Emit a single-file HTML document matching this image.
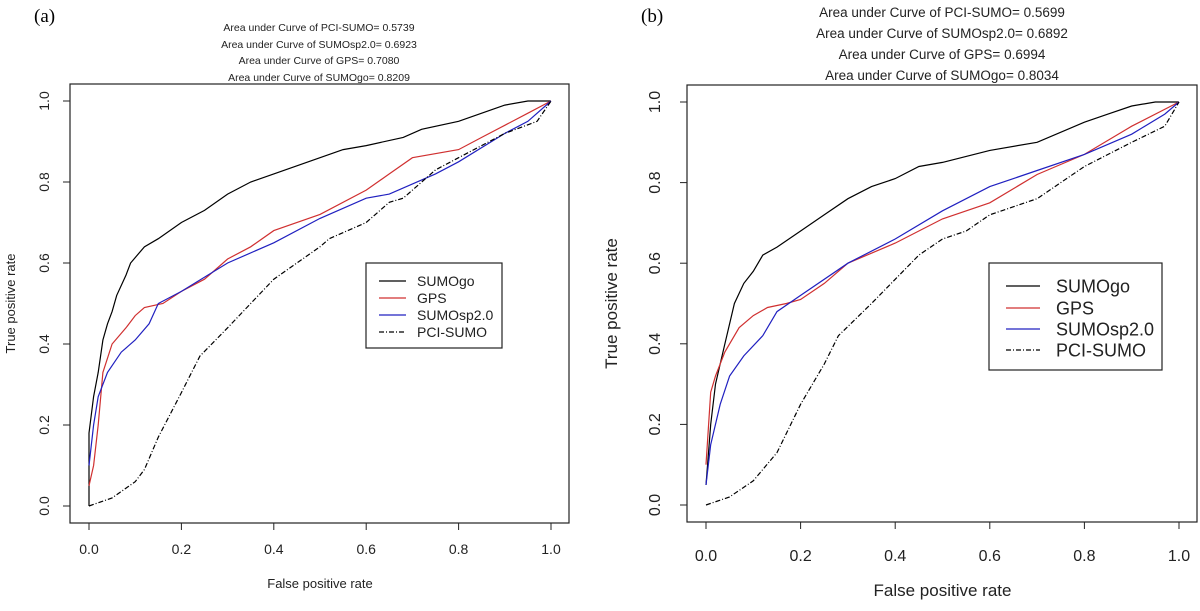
<!DOCTYPE html>
<html><head><meta charset="utf-8"><style>
html,body{margin:0;padding:0;background:#fff;width:1200px;height:611px;overflow:hidden}
svg{display:block;font-family:"Liberation Sans",Arial,sans-serif}
</style></head><body>
<svg id="chart" width="1200" height="611" viewBox="0 0 1200 611"></svg>
<script>
const ticks=[0,0.2,0.4,0.6,0.8,1.0];
const tickLabels=["0.0","0.2","0.4","0.6","0.8","1.0"];
const seriesNames=["SUMOgo","GPS","SUMOsp2.0","PCI-SUMO"];
const aucA=["0.5739","0.6923","0.7080","0.8209"];
const aucB=["0.5699","0.6892","0.6994","0.8034"];
const aucOrder=["PCI-SUMO","SUMOsp2.0","GPS","SUMOgo"];
const sumogoA=[[0,0],[0,0.18],[0.01,0.27],[0.02,0.33],[0.03,0.41],[0.04,0.45],[0.05,0.48],[0.06,0.52],[0.08,0.57],[0.09,0.6],[0.12,0.64],[0.15,0.66],[0.2,0.7],[0.25,0.73],[0.3,0.77],[0.35,0.8],[0.4,0.82],[0.45,0.84],[0.5,0.86],[0.55,0.88],[0.6,0.89],[0.68,0.91],[0.72,0.93],[0.8,0.95],[0.85,0.97],[0.9,0.99],[0.95,1],[1,1]];
const gpsA=[[0,0.05],[0.01,0.1],[0.02,0.2],[0.03,0.33],[0.05,0.4],[0.08,0.44],[0.1,0.47],[0.12,0.49],[0.16,0.5],[0.2,0.53],[0.25,0.56],[0.3,0.61],[0.35,0.64],[0.4,0.68],[0.5,0.72],[0.6,0.78],[0.65,0.82],[0.7,0.86],[0.8,0.88],[0.85,0.91],[0.9,0.94],[0.95,0.97],[1,1]];
const sumospA=[[0,0.1],[0.01,0.2],[0.02,0.27],[0.04,0.33],[0.07,0.38],[0.1,0.41],[0.13,0.45],[0.15,0.5],[0.2,0.53],[0.3,0.6],[0.4,0.65],[0.5,0.71],[0.6,0.76],[0.65,0.77],[0.75,0.82],[0.8,0.85],[0.9,0.92],[0.95,0.95],[1,1]];
const pciA=[[0,0],[0.05,0.02],[0.1,0.06],[0.12,0.09],[0.15,0.17],[0.2,0.28],[0.24,0.37],[0.3,0.44],[0.35,0.5],[0.4,0.56],[0.45,0.6],[0.5,0.64],[0.52,0.66],[0.6,0.7],[0.65,0.75],[0.68,0.76],[0.75,0.83],[0.8,0.86],[0.9,0.92],[0.97,0.95],[1,1]];
const sumogoB=[[0,0.05],[0.01,0.2],[0.02,0.3],[0.04,0.4],[0.06,0.5],[0.08,0.55],[0.1,0.58],[0.12,0.62],[0.15,0.64],[0.2,0.68],[0.25,0.72],[0.3,0.76],[0.35,0.79],[0.4,0.81],[0.45,0.84],[0.5,0.85],[0.6,0.88],[0.7,0.9],[0.8,0.95],[0.85,0.97],[0.9,0.99],[0.95,1],[1,1]];
const gpsB=[[0,0.1],[0.01,0.28],[0.02,0.32],[0.04,0.38],[0.07,0.44],[0.1,0.47],[0.13,0.49],[0.17,0.5],[0.2,0.51],[0.25,0.55],[0.3,0.6],[0.4,0.65],[0.5,0.71],[0.6,0.75],[0.7,0.82],[0.8,0.87],[0.9,0.94],[1,1]];
const sumospB=[[0,0.05],[0.01,0.15],[0.03,0.25],[0.05,0.32],[0.08,0.37],[0.12,0.42],[0.15,0.48],[0.2,0.52],[0.3,0.6],[0.4,0.66],[0.5,0.73],[0.6,0.79],[0.7,0.83],[0.8,0.87],[0.9,0.92],[0.97,0.97],[1,1]];
const pciB=[[0,0],[0.05,0.02],[0.1,0.06],[0.15,0.13],[0.2,0.25],[0.25,0.35],[0.28,0.42],[0.35,0.5],[0.4,0.56],[0.45,0.62],[0.5,0.66],[0.55,0.68],[0.6,0.72],[0.7,0.76],[0.8,0.84],[0.9,0.9],[0.97,0.94],[1,1]];

const NS="http://www.w3.org/2000/svg";
const svg=document.getElementById('chart');
function mk(tag,attrs,parent){const e=document.createElementNS(NS,tag);for(const k in attrs)e.setAttribute(k,attrs[k]);(parent||svg).appendChild(e);return e;}
const colors=["#000","#d03030","#2020c0","#000"];
const dashes=["","","","5,2,1,2"];

function panel(p){
  const g=mk('g',{});
  
  
  const sx=v=>p.x0+v*(p.x1-p.x0), sy=v=>p.y0-v*(p.y0-p.y1);
  const lab=mk('text',{x:p.labX,y:p.labY,'font-size':p.labFs,'font-family':'"Liberation Serif",serif'},g);
  lab.textContent='('+p.id+')';
  
  
  p.auc.forEach((v,i)=>{
    const t=mk('text',{x:p.tcx,y:p.titleY[i],'font-size':p.tfs,'text-anchor':'middle',fill:'#222'},g);
    t.textContent='Area under Curve of '+aucOrder[i]+'= '+v;
    
    
  });
  const box=mk('rect',{x:p.bl,y:p.bt,width:p.br-p.bl,height:p.bb-p.bt,fill:'none',stroke:'#222','stroke-width':1.2},g);
  
  
  ticks.forEach((t,i)=>{
    const x=sx(t);
    mk('line',{x1:x,x2:x,y1:p.bb,y2:p.bb+7,stroke:'#222'},g);
    const tx=mk('text',{x:x,y:p.xtY,'font-size':p.tkfs,'text-anchor':'middle',fill:'#222'},g);
    tx.textContent=tickLabels[i];
    
    
    const y=sy(t);
    mk('line',{x1:p.bl,x2:p.bl-7,y1:y,y2:y,stroke:'#222'},g);
    const ty=mk('text',{x:p.ytX,y:y,'font-size':p.tkfs,'text-anchor':'middle',fill:'#222',transform:`rotate(-90 ${p.ytX} ${y})`},g);
    ty.textContent=tickLabels[i];
    
    
  });
  mk('line',{x1:sx(0),x2:sx(1),y1:p.bb,y2:p.bb,stroke:'none'},g);
  const xt=mk('text',{x:(sx(0)+sx(1))/2,y:p.xTitleY,'font-size':p.atfs,'text-anchor':'middle',fill:'#222'},g);
  xt.textContent='False positive rate';
  
  
  const yc=(sy(0)+sy(1))/2;
  const yt=mk('text',{x:p.yTitleX,y:yc,'font-size':p.atfs,'text-anchor':'middle',fill:'#222',transform:`rotate(-90 ${p.yTitleX} ${yc})`},g);
  yt.textContent='True positive rate';
  
  
  p.series.forEach((s,i)=>{
    const pl=mk('polyline',{points:s.map(d=>sx(d[0]).toFixed(1)+','+sy(d[1]).toFixed(1)).join(' '),fill:'none',stroke:colors[i],'stroke-width':1.2,'stroke-dasharray':dashes[i]},g);
    
    
  });
  const lg=mk('g',{},g);
  
  
  mk('rect',{x:p.lg.x,y:p.lg.y,width:p.lg.w,height:p.lg.h,fill:'#fff',stroke:'#222','stroke-width':1.2},lg);
  seriesNames.forEach((n,i)=>{
    const y=p.lg.rows[i];
    mk('line',{x1:p.lg.l1,x2:p.lg.l2,y1:y,y2:y,stroke:colors[i],'stroke-width':1.2,'stroke-dasharray':dashes[i]},lg);
    const t=mk('text',{x:p.lg.tx,y:y+p.lg.fs*0.36,'font-size':p.lg.fs,fill:'#222'},lg);
    t.textContent=n;
    
    
  });
}
panel({id:'a',x0:89,x1:551,y0:506,y1:101,bl:70,br:569,bt:84,bb:523,labX:34,labY:22,labFs:19,
  tcx:319,titleY:[31,48,64,81],tfs:10.5,auc:aucA,xtY:554,tkfs:14,ytX:49,xTitleY:588,atfs:13,yTitleX:15,
  series:[sumogoA,gpsA,sumospA,pciA],
  lg:{x:366,y:263,w:136,h:85,rows:[281,298,315,332],l1:379,l2:406,tx:417,fs:14}});
panel({id:'b',x0:706,x1:1179,y0:505,y1:102,bl:687,br:1197,bt:85,bb:522,labX:641,labY:22,labFs:19,
  tcx:942,titleY:[17,38,59,80],tfs:13.5,auc:aucB,xtY:561,tkfs:16,ytX:660,xTitleY:596,atfs:17,yTitleX:617,
  series:[sumogoB,gpsB,sumospB,pciB],
  lg:{x:989,y:263,w:173,h:107,rows:[286,308,329,350],l1:1006,l2:1040,tx:1056,fs:18}});
</script>
</body></html>
